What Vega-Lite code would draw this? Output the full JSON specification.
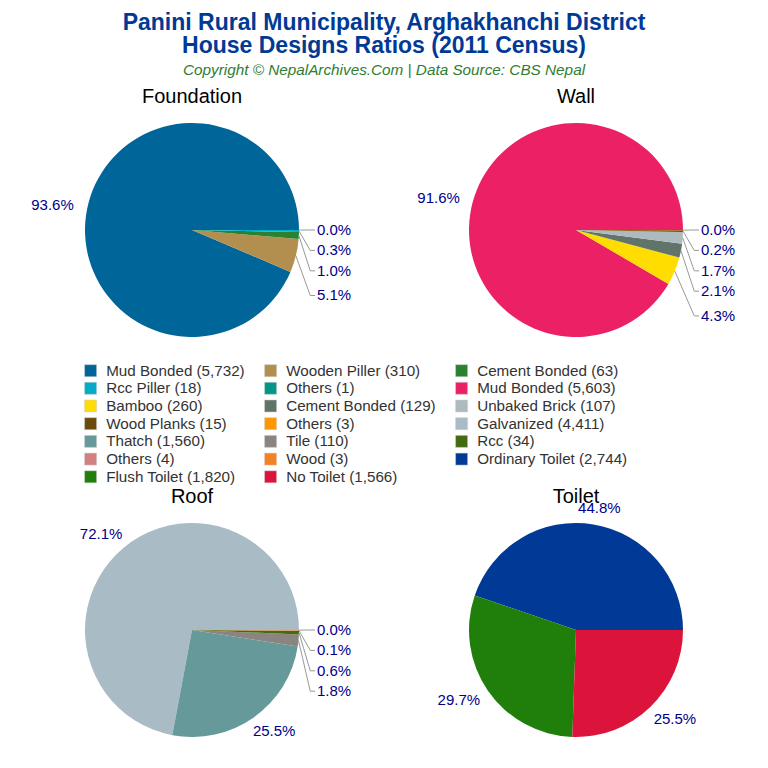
{
  "$schema": "https://vega.github.io/schema/vega-lite/v6.json",
  "padding": {"top": 11, "left": 0, "right": 0, "bottom": 0},
  "background": "white",
  "config": {"view": {"stroke": null}},
  "title": {
    "text": ["Panini Rural Municipality, Arghakhanchi District", "House Designs Ratios (2011 Census)"],
    "subtitle": "Copyright © NepalArchives.Com | Data Source: CBS Nepal",
    "font": "Liberation Sans",
    "fontSize": 23,
    "fontWeight": "bold",
    "color": "#003A96",
    "lineHeight": 23,
    "subtitleFont": "Liberation Sans",
    "subtitleFontSize": 15.3,
    "subtitleFontStyle": "italic",
    "subtitleColor": "#2E7D32",
    "subtitlePadding": 5,
    "anchor": "middle",
    "offset": 9
  },
  "data": {
    "values": [
      {"panel": "Foundation", "item": "Mud Bonded (5,732)", "count": 5732},
      {"panel": "Foundation", "item": "Wooden Piller (310)", "count": 310},
      {"panel": "Foundation", "item": "Cement Bonded (63)", "count": 63},
      {"panel": "Foundation", "item": "Rcc Piller (18)", "count": 18},
      {"panel": "Foundation", "item": "Others (1)", "count": 1},
      {"panel": "Wall", "item": "Mud Bonded (5,603)", "count": 5603},
      {"panel": "Wall", "item": "Bamboo (260)", "count": 260},
      {"panel": "Wall", "item": "Cement Bonded (129)", "count": 129},
      {"panel": "Wall", "item": "Unbaked Brick (107)", "count": 107},
      {"panel": "Wall", "item": "Wood Planks (15)", "count": 15},
      {"panel": "Wall", "item": "Others (3)", "count": 3},
      {"panel": "Roof", "item": "Galvanized (4,411)", "count": 4411},
      {"panel": "Roof", "item": "Thatch (1,560)", "count": 1560},
      {"panel": "Roof", "item": "Tile (110)", "count": 110},
      {"panel": "Roof", "item": "Rcc (34)", "count": 34},
      {"panel": "Roof", "item": "Others (4)", "count": 4},
      {"panel": "Roof", "item": "Wood (3)", "count": 3},
      {"panel": "Toilet", "item": "Ordinary Toilet (2,744)", "count": 2744},
      {"panel": "Toilet", "item": "Flush Toilet (1,820)", "count": 1820},
      {"panel": "Toilet", "item": "No Toilet (1,566)", "count": 1566}
    ]
  },
  "transform": [
    {"joinaggregate": [{"op": "sum", "field": "count", "as": "total"}], "groupby": ["panel"]},
    {
      "window": [
        {"op": "sum", "field": "count", "as": "cum"},
        {"op": "row_number", "as": "rownum"}
      ],
      "sort": [{"field": "count", "order": "ascending"}],
      "groupby": ["panel"]
    },
    {"calculate": "datum.count / datum.total * 100", "as": "pct"},
    {"calculate": "format(datum.pct, '.1f') + '%'", "as": "pctLabel"},
    {"calculate": "(datum.cum - datum.count / 2) / datum.total * 2 * PI", "as": "mid"},
    {"calculate": "cos(datum.mid)", "as": "edgeX"},
    {"calculate": "sin(datum.mid)", "as": "edgeY"},
    {"calculate": "datum.pct < 10 ? 1.327 : 1.33 * datum.edgeX", "as": "labelX"},
    {"calculate": "datum.pct < 10 ? (datum.rownum - 1) * 0.1907 + (datum.pct > 4 ? 0.04 : 0) : 1.16 * datum.edgeY", "as": "labelY"},
    {"calculate": "1.105", "as": "elbowX"},
    {"calculate": "1.15", "as": "endX"}
  ],
  "facet": {
    "field": "panel",
    "type": "nominal",
    "sort": ["Foundation", "Wall", "Roof", "Toilet"],
    "title": null,
    "header": {
      "title": null,
      "labelFont": "Liberation Sans",
      "labelFontSize": 20,
      "labelColor": "black",
      "labelPadding": -8
    }
  },
  "columns": 2,
  "spacing": {"row": 138, "column": 0},
  "bounds": "flush",
  "spec": {
    "width": 384,
    "height": 262,
    "encoding": {
      "x": {"type": "quantitative", "axis": null, "scale": {"domain": [-1.794, 1.794], "nice": false, "zero": false}},
      "y": {"type": "quantitative", "axis": null, "scale": {"domain": [-1.2243, 1.2243], "reverse": true, "nice": false, "zero": false}}
    },
    "layer": [
      {
        "mark": {"type": "arc", "outerRadius": 107},
        "encoding": {
          "x": null,
          "y": null,
          "theta": {"field": "count", "type": "quantitative", "stack": "normalize", "scale": {"domain": [0, 1], "range": [1.5708, 7.854]}},
          "order": {"field": "count", "type": "quantitative", "sort": "ascending"},
          "color": {
            "field": "item",
            "type": "nominal",
            "scale": {
              "domain": [
                "Mud Bonded (5,732)", "Wooden Piller (310)", "Cement Bonded (63)",
                "Rcc Piller (18)", "Others (1)", "Mud Bonded (5,603)",
                "Bamboo (260)", "Cement Bonded (129)", "Unbaked Brick (107)",
                "Wood Planks (15)", "Others (3)", "Galvanized (4,411)",
                "Thatch (1,560)", "Tile (110)", "Rcc (34)",
                "Others (4)", "Wood (3)", "Ordinary Toilet (2,744)",
                "Flush Toilet (1,820)", "No Toilet (1,566)"
              ],
              "range": [
                "#006699", "#B38F4F", "#2B8130",
                "#00ACC8", "#009688", "#EC2064",
                "#FFDD00", "#607469", "#AEBAC0",
                "#6B4A0C", "#FF9800", "#A9BCC6",
                "#669999", "#8B8581", "#456B10",
                "#D28080", "#F58220", "#003A96",
                "#1F7F0A", "#DC143C"
              ]
            },
            "legend": {
              "title": null,
              "orient": "none",
              "legendX": 83,
              "legendY": 264,
              "direction": "horizontal",
              "columns": 3,
              "gridAlign": "each",
              "columnPadding": 18,
              "rowPadding": 1.7,
              "symbolType": "square",
              "symbolSize": 144,
              "symbolStrokeColor": "#cccccc",
              "symbolStrokeWidth": 0.5,
              "labelFont": "Liberation Sans",
              "labelFontSize": 15.2,
              "labelColor": "#333333",
              "labelLimit": 400,
              "labelOffset": 8
            }
          }
        }
      },
      {
        "transform": [{"filter": "datum.pct < 10"}],
        "mark": {"type": "rule", "color": "#999999", "strokeWidth": 1},
        "encoding": {
          "x": {"field": "edgeX"},
          "y": {"field": "edgeY"},
          "x2": {"field": "elbowX"},
          "y2": {"field": "labelY"}
        }
      },
      {
        "transform": [{"filter": "datum.pct < 10"}],
        "mark": {"type": "rule", "color": "#999999", "strokeWidth": 1},
        "encoding": {
          "x": {"field": "elbowX"},
          "y": {"field": "labelY"},
          "x2": {"field": "endX"},
          "y2": {"field": "labelY"}
        }
      },
      {
        "mark": {"type": "text", "font": "Liberation Sans", "fontSize": 15, "color": "#00008B", "baseline": "middle", "align": "center"},
        "encoding": {
          "x": {"field": "labelX"},
          "y": {"field": "labelY"},
          "text": {"field": "pctLabel"}
        }
      }
    ]
  }
}
